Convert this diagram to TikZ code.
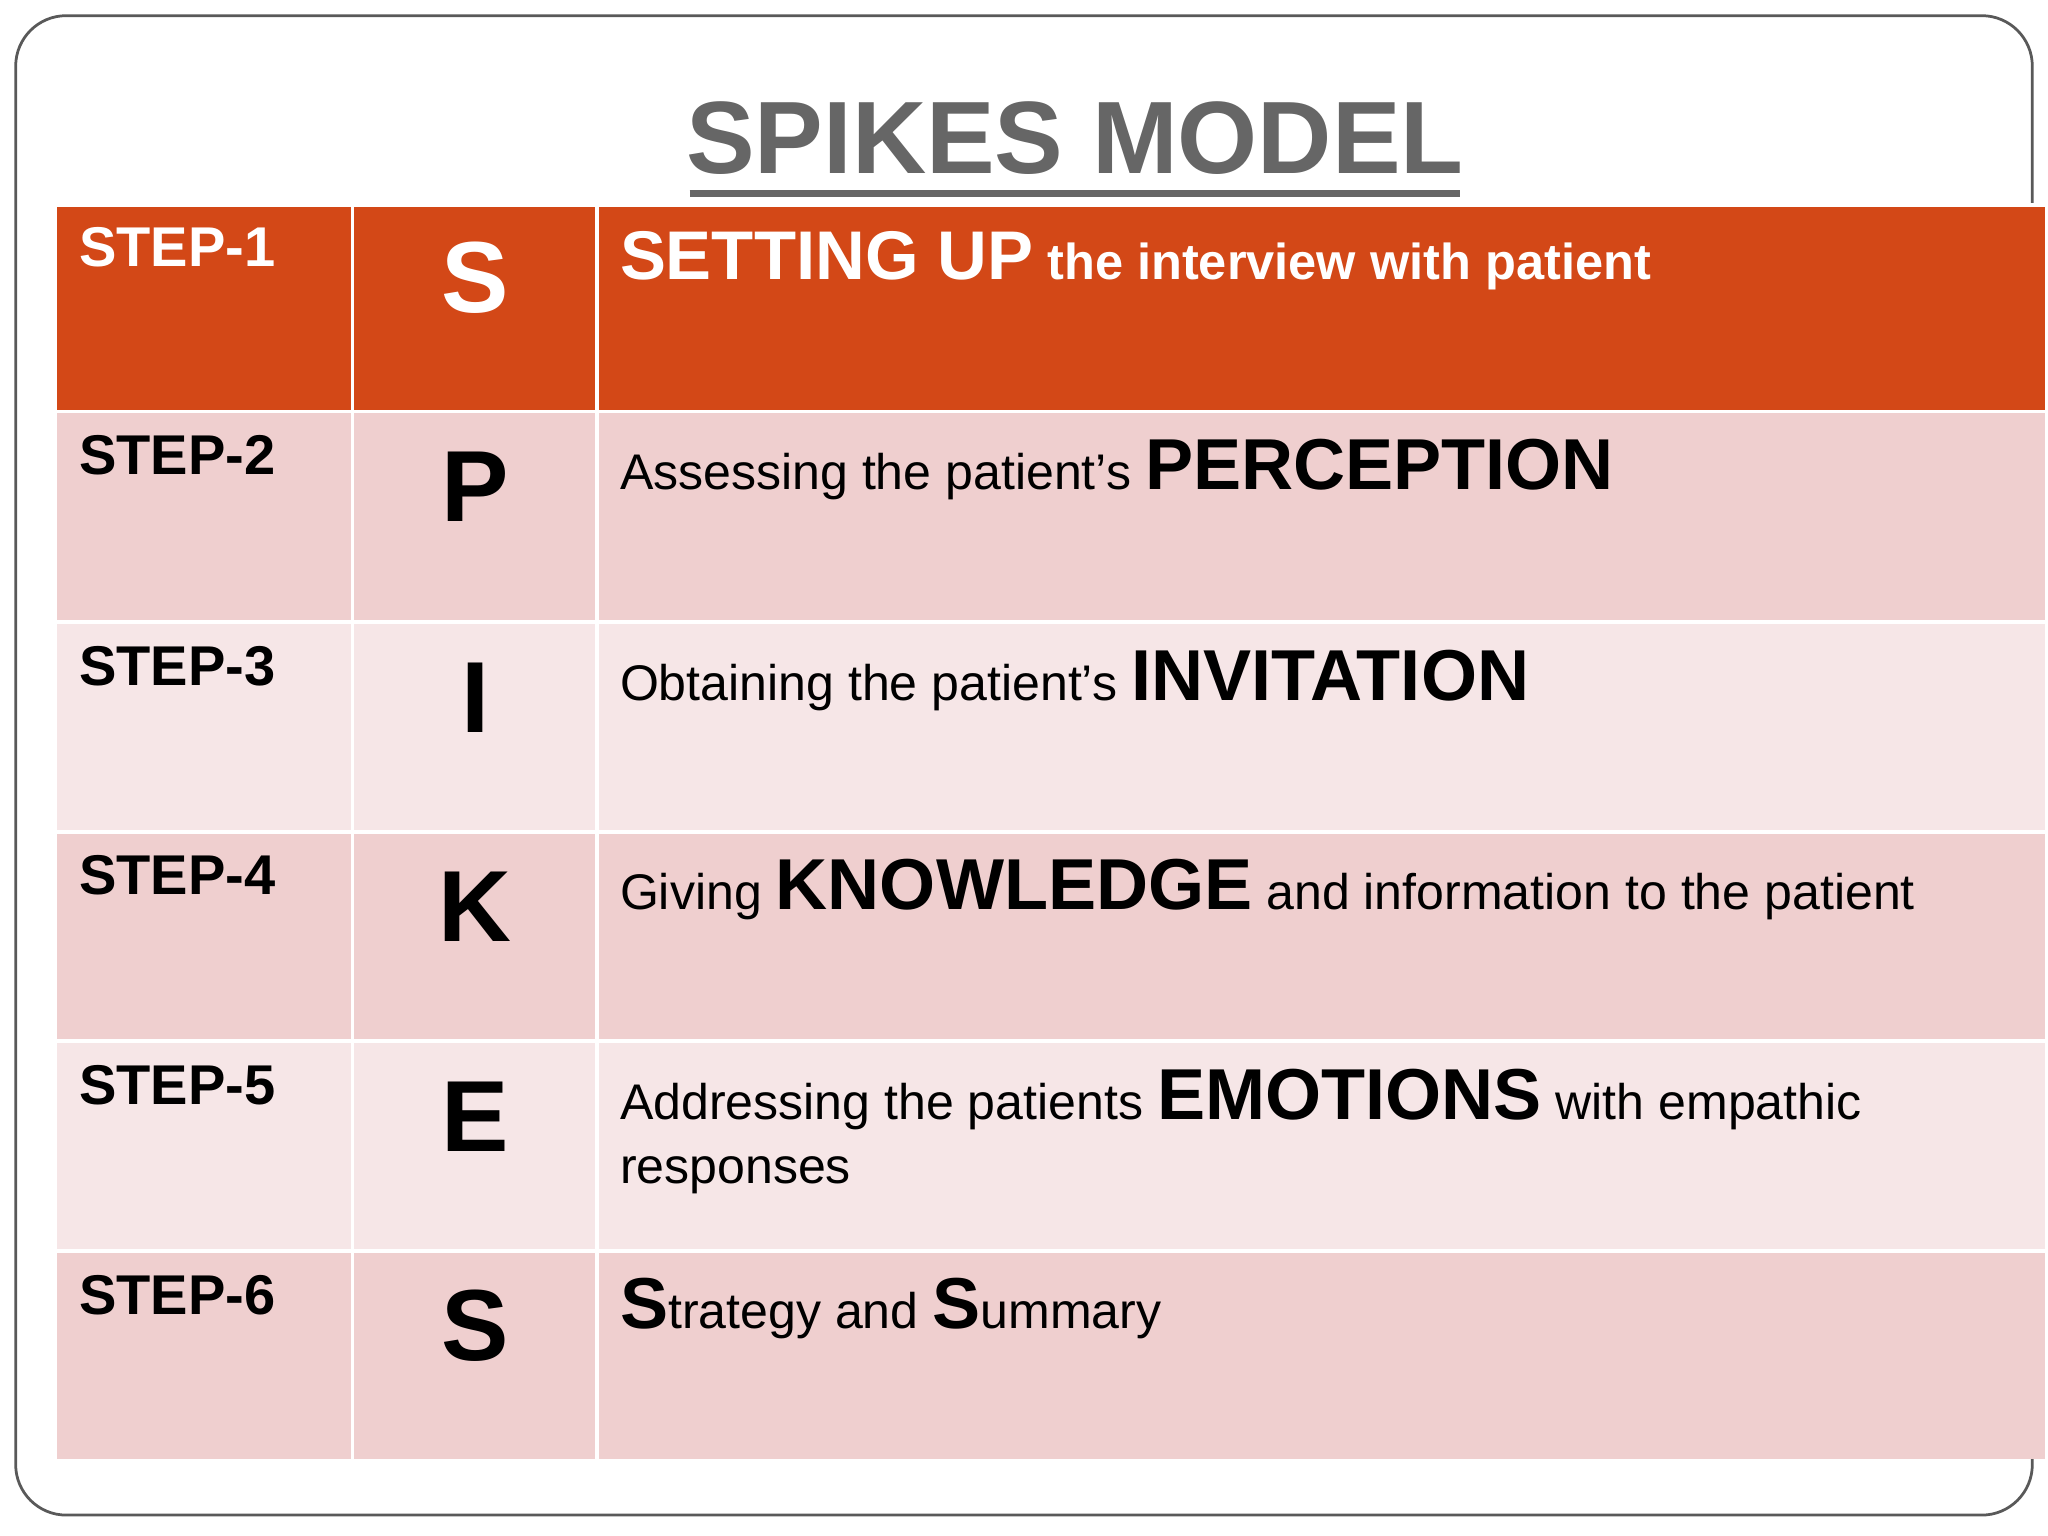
\documentclass[tikz,border=0pt]{standalone}
\usepackage{fontspec}
\setmainfont{Liberation Sans}
\definecolor{orng}{HTML}{D34817}
\definecolor{pinkA}{HTML}{EFCFCF}
\definecolor{pinkB}{HTML}{F6E6E7}
\definecolor{ttl}{HTML}{666666}
\begin{document}
\begin{tikzpicture}[x=0.01cm,y=-0.01cm,
  cell/.style={draw=white,line width=0.8pt},
  steplbl/.style={anchor=north west,inner sep=0pt,font=\fontsize{12.2}{14}\selectfont\bfseries},
  letter/.style={anchor=center,inner sep=0pt,font=\fontsize{22}{26}\selectfont\bfseries},
  body/.style={anchor=base west,inner sep=0pt,align=left,font=\fontsize{10.9}{15}\selectfont}]
\useasboundingbox (0,0) rectangle (1568,1176);
\fill[white] (0,0) rectangle (1568,1176);
\draw[gray!70!black,line width=0.6pt,rounded corners=11pt] (12,12) rectangle (1556,1160);
\node[ttl,inner sep=0pt,anchor=base,font=\fontsize{22.4}{26}\selectfont\bfseries] (title) at (823,133) {SPIKES MODEL};
\draw[ttl,line width=1.4pt] (528,148) -- (1118,148);
\foreach \t/\b/\c in {157/315/orng,315/476/pinkA,476/637/pinkB,637/797/pinkA,797/958/pinkB,958/1117/pinkA}{
  \fill[\c] (44,\t) rectangle (1566,\b);
  \draw[cell] (44,\t) -- (1566,\t);
  \draw[cell] (270,\t) -- (270,\b);
  \draw[cell] (457,\t) -- (457,\b);
}
\node[steplbl,white] (s1) at (60,173) {STEP-1};
\node[steplbl] (s2) at (60,333) {STEP-2};
\node[steplbl] (s3) at (60,494) {STEP-3};
\node[steplbl] (s4) at (60,654) {STEP-4};
\node[steplbl] (s5) at (60,815) {STEP-5};
\node[steplbl] (s6) at (60,976) {STEP-6};
\node[letter,white] (l1) at (364,213) {S};
\node[letter] (l2) at (364,373) {P};
\node[letter] (l3) at (364,534) {I};
\node[letter] (l4) at (364,694) {K};
\node[letter] (l5) at (364,855) {E};
\node[letter] (l6) at (364,1015) {S};
\newcommand\bigb[1]{{\fontsize{15.7}{18}\selectfont\bfseries #1}}
\node[body,white,font=\fontsize{11}{14}\selectfont\bfseries] (t1) at (474,214) {{\fontsize{15}{18}\selectfont SETTING UP} the interview with patient};
\node[body] (t2) at (474,375) {Assessing the patient’s \bigb{PERCEPTION}};
\node[body] (t3) at (474,536) {Obtaining the patient’s \bigb{INVITATION}};
\node[body] (t4) at (474,696) {Giving \bigb{KNOWLEDGE} and information to the patient};
\node[body] (t5) at (474,857) {Addressing the patients \bigb{EMOTIONS} with empathic};
\node[body] (t5b) at (474,906) {responses};
\node[body] (t6) at (474,1017) {\bigb{S}trategy and \bigb{S}ummary};
\end{tikzpicture}
\end{document}
